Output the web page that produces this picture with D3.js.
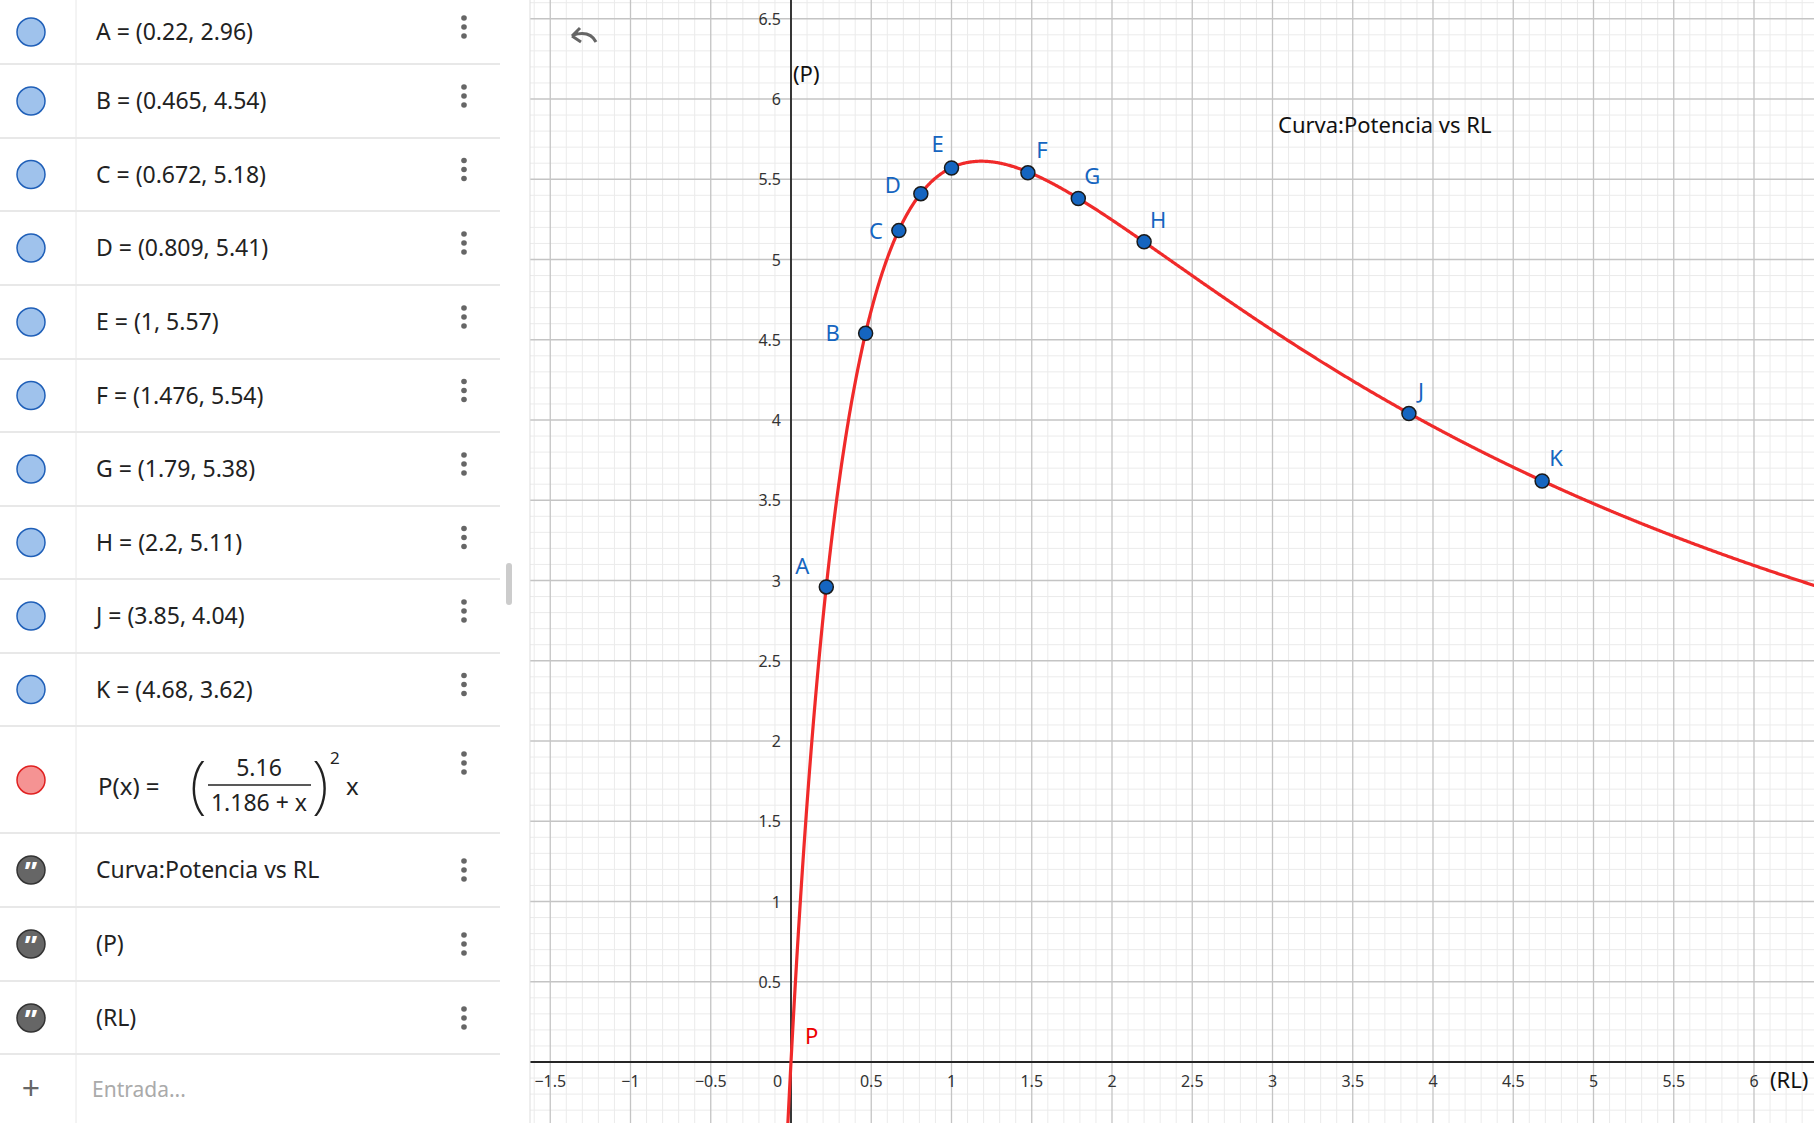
<!DOCTYPE html>
<html><head><meta charset="utf-8">
<script src="https://cdn.jsdelivr.net/npm/d3@7"></script>
<style>body{margin:0;background:#fff;font-family:"Noto Sans",Roboto,sans-serif}</style>
</head><body>
<svg id="c" width="1814" height="1123"></svg>
<script>
const pointNames = ["A","B","C","D","E","F","G","H","J","K"]
const pointX = [0.22, 0.465, 0.672, 0.809, 1, 1.476, 1.79, 2.2, 3.85, 4.68]
const pointY = [2.96, 4.54, 5.18, 5.41, 5.57, 5.54, 5.38, 5.11, 4.04, 3.62]
const pointLabels = ["(0.22, 2.96)","(0.465, 4.54)","(0.672, 5.18)","(0.809, 5.41)","(1, 5.57)","(1.476, 5.54)","(1.79, 5.38)","(2.2, 5.11)","(3.85, 4.04)","(4.68, 3.62)"]
// label offsets (px) relative to each point
const labelDx = [-24,-33,-23,-28,-14,14,14,14,12,14]
const labelDy = [-21,0,0,-9,-24,-23,-23,-22,-23,-23]
const xTicks = [-1.5,-1,-0.5,0.5,1,1.5,2,2.5,3,3.5,4,4.5,5,5.5,6]
const yTicks = [0.5,1,1.5,2,2.5,3,3.5,4,4.5,5,5.5,6,6.5]
const textItems = ["Curva:Potencia vs RL","(P)","(RL)"]
const P = x => Math.pow(5.16/(1.186+x),2)*x

const svg = d3.select("#c")
const U = 160.5, X0 = 791, Y0 = 1062, left = 530
const x = d3.scaleLinear().domain([0,1]).range([X0, X0+U])
const y = d3.scaleLinear().domain([0,1]).range([Y0, Y0-U])
const xmin = x.invert(left), xmax = x.invert(1814), ymin = y.invert(1123), ymax = y.invert(0)

const g = svg.append("g")
// grid
const minorX = d3.range(Math.ceil(xmin*10), Math.floor(xmax*10)+1).map(d=>d/10)
const minorY = d3.range(Math.ceil(ymin*10), Math.floor(ymax*10)+1).map(d=>d/10)
const isMajor = v => Math.abs(v*2 - Math.round(v*2)) < 1e-6
g.selectAll(".vx").data(minorX).join("line")
  .attr("x1",d=>x(d)).attr("x2",d=>x(d)).attr("y1",0).attr("y2",1123)
  .attr("stroke",d=>isMajor(d)?"#c4c4c4":"#ebebeb").attr("stroke-width",d=>isMajor(d)?1.3:1)
g.selectAll(".hy").data(minorY).join("line")
  .attr("y1",d=>y(d)).attr("y2",d=>y(d)).attr("x1",left).attr("x2",1814)
  .attr("stroke",d=>isMajor(d)?"#c4c4c4":"#ebebeb").attr("stroke-width",d=>isMajor(d)?1.3:1)
g.selectAll("line").sort((a,b)=>isMajor(a)-isMajor(b))
// axes
g.append("line").attr("x1",left).attr("x2",1814).attr("y1",Y0).attr("y2",Y0).attr("stroke","#252525").attr("stroke-width",1.8)
g.append("line").attr("x1",X0).attr("x2",X0).attr("y1",0).attr("y2",1123).attr("stroke","#252525").attr("stroke-width",1.8)
g.selectAll(".xt").data(xTicks).join("text")
  .attr("x",d=>x(d)).attr("y",Y0+25).attr("text-anchor","middle")
  .attr("font-size",16).attr("fill","#333").text(d=>String(d).replace("-","\u2212"))
g.append("text").attr("x",X0-18).attr("y",Y0+25).attr("font-size",16).attr("fill","#333").text("0")
g.selectAll(".yt").data(yTicks).join("text")
  .attr("x",X0-10).attr("y",d=>y(d)+6).attr("text-anchor","end")
  .attr("font-size",16).attr("fill","#333").text(d=>d)
// curve
const xs = d3.range(-0.02, xmax+0.01, 0.005)
g.append("path").datum(xs.map(v=>[v,P(v)]))
  .attr("d", d3.line().x(d=>x(d[0])).y(d=>y(d[1])))
  .attr("fill","none").attr("stroke","#f02a2a").attr("stroke-width",3.2)
g.append("text").attr("x",805).attr("y",1044).attr("font-size",22).attr("fill","#e00").text("P")
// points
const pts = g.selectAll(".pt").data(pointNames).join("g")
pts.append("circle").attr("cx",(d,i)=>x(pointX[i])).attr("cy",(d,i)=>y(pointY[i])).attr("r",7)
  .attr("fill","#1565c0").attr("stroke","#1a1a1a").attr("stroke-width",1.5)
pts.append("text").attr("x",(d,i)=>x(pointX[i])+labelDx[i]).attr("y",(d,i)=>y(pointY[i])+labelDy[i]+8)
  .attr("text-anchor","middle").attr("font-size",22).attr("fill","#1565c0").text(d=>d)
// texts
g.append("text").attr("x",1278).attr("y",133).attr("font-size",22).attr("fill","#111").text(textItems[0])
g.append("text").attr("x",793).attr("y",82).attr("font-size",22).attr("fill","#111").text(textItems[1])
g.append("text").attr("x",1770).attr("y",1088).attr("font-size",22).attr("fill","#111").text(textItems[2])
// undo icon
g.append("path").attr("d","M572,36 L580,28 M572,36 L581,42 M573,35 Q590,30 596,42").attr("fill","none").attr("stroke","#666").attr("stroke-width",3)

// algebra panel
const pan = svg.append("g")
pan.append("rect").attr("width",left).attr("height",1123).attr("fill","#fff")
pan.append("line").attr("x1",left).attr("x2",left).attr("y1",0).attr("y2",1123).attr("stroke","#ddd")
const seps = [64,138,211,285,359,432,506,579,653,726,833,907,981,1054]
const tops = [0].concat(seps)
pan.selectAll(".sep").data(seps).join("line").attr("x1",0).attr("x2",500).attr("y1",d=>d).attr("y2",d=>d).attr("stroke","#e0e0e0").attr("stroke-width",1.5)
pan.append("line").attr("x1",76).attr("x2",76).attr("y1",0).attr("y2",1123).attr("stroke","#e8e8e8")
pan.append("rect").attr("x",506).attr("y",563).attr("width",6).attr("height",42).attr("rx",3).attr("fill","#ccc")
const kebab = (cy) => { [-9,0,9].forEach(o=>pan.append("circle").attr("cx",464).attr("cy",cy+o).attr("r",2.8).attr("fill","#666")) }
pointNames.forEach((n,i)=>{
  const cy = tops[i]+ (seps[i]-tops[i])/2 - 6
  pan.append("circle").attr("cx",31).attr("cy",cy+6).attr("r",14).attr("fill","#9fc2ec").attr("stroke","#1f5fb8").attr("stroke-width",1.5)
  pan.append("text").attr("x",96).attr("y",cy+14).attr("font-size",23).attr("fill","#222").text(n+" = "+pointLabels[i])
  kebab(cy+1)
})
// function row
pan.append("circle").attr("cx",31).attr("cy",780).attr("r",14).attr("fill","#f59393").attr("stroke","#e02020").attr("stroke-width",1.5)
pan.append("text").attr("x",98).attr("y",795).attr("font-size",24).attr("fill","#222").text("P(x)  =")
pan.append("text").attr("x",190).attr("y",806).attr("font-size",62).attr("font-weight",200).attr("fill","#222").text("(")
pan.append("text").attr("x",312).attr("y",806).attr("font-size",62).attr("font-weight",200).attr("fill","#222").text(")")
pan.append("text").attr("x",259).attr("y",776).attr("text-anchor","middle").attr("font-size",23).attr("fill","#222").text("5.16")
pan.append("line").attr("x1",208).attr("x2",311).attr("y1",785).attr("y2",785).attr("stroke","#222").attr("stroke-width",1.5)
pan.append("text").attr("x",259).attr("y",811).attr("text-anchor","middle").attr("font-size",23).attr("fill","#222").text("1.186 + x")
pan.append("text").attr("x",330).attr("y",764).attr("font-size",17).attr("fill","#222").text("2")
pan.append("text").attr("x",346).attr("y",795).attr("font-size",24).attr("fill","#222").text("x")
kebab(763)
textItems.forEach((t,i)=>{
  const cy = [870,944,1018][i]
  pan.append("circle").attr("cx",31).attr("cy",cy).attr("r",14).attr("fill","#666").attr("stroke","#333").attr("stroke-width",1.5)
  pan.append("text").attr("x",31).attr("y",cy+13).attr("text-anchor","middle").attr("font-size",28).attr("font-weight","bold").attr("fill","#fff").text("\u201D")
  pan.append("text").attr("x",96).attr("y",cy+8).attr("font-size",23).attr("fill","#222").text(t)
  kebab(cy)
})
pan.append("text").attr("x",31).attr("y",1100).attr("text-anchor","middle").attr("font-size",32).attr("fill","#666").text("+")
pan.append("text").attr("x",92).attr("y",1097).attr("font-size",21).attr("fill","#aaa").text("Entrada...")
</script>
</body></html>
